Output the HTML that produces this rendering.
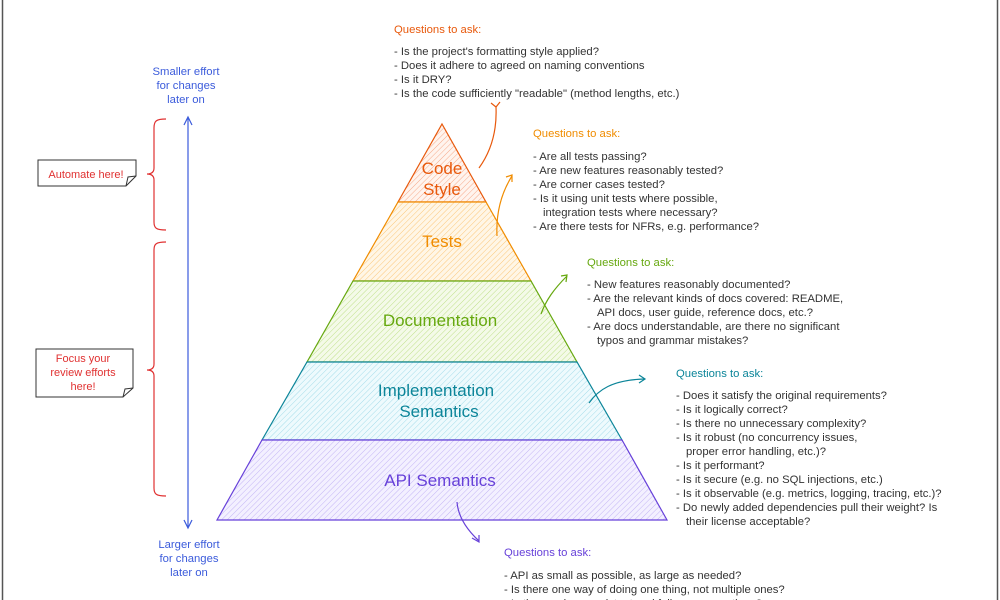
<!DOCTYPE html>
<html><head><meta charset="utf-8"><style>
html,body{margin:0;padding:0;background:#fff;}
svg{display:block;font-family:"Liberation Sans",sans-serif;}
</style></head><body>
<svg width="1000" height="600" viewBox="0 0 1000 600" xmlns="http://www.w3.org/2000/svg">
<defs>
<pattern id="h1" width="4" height="4" patternUnits="userSpaceOnUse" patternTransform="rotate(45)"><rect width="4" height="4" fill="#fff4ee"/><line x1="0" y1="0" x2="0" y2="4" stroke="#f6a98a" stroke-width="1"/></pattern>
<pattern id="h2" width="4" height="4" patternUnits="userSpaceOnUse" patternTransform="rotate(45)"><rect width="4" height="4" fill="#fff6e6"/><line x1="0" y1="0" x2="0" y2="4" stroke="#fbc77a" stroke-width="1"/></pattern>
<pattern id="h3" width="4" height="4" patternUnits="userSpaceOnUse" patternTransform="rotate(45)"><rect width="4" height="4" fill="#f4fae8"/><line x1="0" y1="0" x2="0" y2="4" stroke="#bfe08a" stroke-width="1"/></pattern>
<pattern id="h4" width="4" height="4" patternUnits="userSpaceOnUse" patternTransform="rotate(45)"><rect width="4" height="4" fill="#eefafd"/><line x1="0" y1="0" x2="0" y2="4" stroke="#a5dcea" stroke-width="1"/></pattern>
<pattern id="h5" width="4" height="4" patternUnits="userSpaceOnUse" patternTransform="rotate(45)"><rect width="4" height="4" fill="#f3f0ff"/><line x1="0" y1="0" x2="0" y2="4" stroke="#c3b4f5" stroke-width="1"/></pattern>
</defs>
<rect x="2.5" y="-2" width="995" height="610" fill="none" stroke="#555" stroke-width="1.5"/>

<polygon points="442,124 486,202 398,202" fill="url(#h1)" stroke="#e8590c" stroke-width="1.2"/>
<polygon points="398,202 486,202 531,281 353,281" fill="url(#h2)" stroke="#f08c00" stroke-width="1.2"/>
<polygon points="353,281 531,281 577,362 307,362" fill="url(#h3)" stroke="#66a80f" stroke-width="1.2"/>
<polygon points="307,362 577,362 622,440 262,440" fill="url(#h4)" stroke="#0c8599" stroke-width="1.2"/>
<polygon points="262,440 622,440 667,520 217,520" fill="url(#h5)" stroke="#6741d9" stroke-width="1.2"/>

<g font-size="17" text-anchor="middle">
<text x="442" y="174" fill="#e8590c">Code</text>
<text x="442" y="195" fill="#e8590c">Style</text>
<text x="442" y="247" fill="#f08c00">Tests</text>
<text x="440" y="326" fill="#66a80f">Documentation</text>
<text x="436" y="396" fill="#0c8599">Implementation</text>
<text x="439" y="417" fill="#0c8599">Semantics</text>
<text x="440" y="486" fill="#6741d9">API Semantics</text>
</g>

<g fill="none" stroke-width="1.2">
<path d="M479,168 C492,150 497,130 496,107" stroke="#e8590c"/>
<path d="M491,103 L496,107 L500,102" stroke="#e8590c"/>
<path d="M497,236 C496,215 500,195 512,176" stroke="#f08c00"/>
<path d="M506,177 L512,175 L512,182" stroke="#f08c00"/>
<path d="M541,314 C546,300 554,289 567,276" stroke="#66a80f"/>
<path d="M561,276 L567,275 L566,282" stroke="#66a80f"/>
<path d="M589,403 C598,390 612,380 644,379" stroke="#0c8599"/>
<path d="M639,375 L645,379 L639,383" stroke="#0c8599"/>
<path d="M457,502 C458,515 465,528 479,541" stroke="#6741d9"/>
<path d="M472,538 L479,542 L479,535" stroke="#6741d9"/>
</g>

<g font-size="11.3" fill="#333">
<text x="394" y="33" fill="#e8590c">Questions to ask:</text>
<text x="394" y="55">- Is the project's formatting style applied?</text>
<text x="394" y="69">- Does it adhere to agreed on naming conventions</text>
<text x="394" y="83">- Is it DRY?</text>
<text x="394" y="97">- Is the code sufficiently "readable" (method lengths, etc.)</text>

<text x="533" y="137" fill="#f08c00">Questions to ask:</text>
<text x="533" y="160">- Are all tests passing?</text>
<text x="533" y="174">- Are new features reasonably tested?</text>
<text x="533" y="188">- Are corner cases tested?</text>
<text x="533" y="202">- Is it using unit tests where possible,</text>
<text x="543" y="216">integration tests where necessary?</text>
<text x="533" y="230">- Are there tests for NFRs, e.g. performance?</text>

<text x="587" y="266" fill="#66a80f">Questions to ask:</text>
<text x="587" y="288">- New features reasonably documented?</text>
<text x="587" y="302">- Are the relevant kinds of docs covered: README,</text>
<text x="597" y="316">API docs, user guide, reference docs, etc.?</text>
<text x="587" y="330">- Are docs understandable, are there no significant</text>
<text x="597" y="344">typos and grammar mistakes?</text>

<text x="676" y="377" fill="#0c8599">Questions to ask:</text>
<text x="676" y="399">- Does it satisfy the original requirements?</text>
<text x="676" y="413">- Is it logically correct?</text>
<text x="676" y="427">- Is there no unnecessary complexity?</text>
<text x="676" y="441">- Is it robust (no concurrency issues,</text>
<text x="686" y="455">proper error handling, etc.)?</text>
<text x="676" y="469">- Is it performant?</text>
<text x="676" y="483">- Is it secure (e.g. no SQL injections, etc.)</text>
<text x="676" y="497">- Is it observable (e.g. metrics, logging, tracing, etc.)?</text>
<text x="676" y="511">- Do newly added dependencies pull their weight? Is</text>
<text x="686" y="525">their license acceptable?</text>

<text x="504" y="556" fill="#6741d9">Questions to ask:</text>
<text x="504" y="579">- API as small as possible, as large as needed?</text>
<text x="504" y="593">- Is there one way of doing one thing, not multiple ones?</text>
<text x="504" y="607">- Is the naming consistent and follows conventions?</text>
</g>

<g font-size="11.3" fill="#3b5bdb" text-anchor="middle">
<text x="186" y="75">Smaller effort</text>
<text x="186" y="89">for changes</text>
<text x="186" y="103">later on</text>
<text x="189" y="548">Larger effort</text>
<text x="189" y="562">for changes</text>
<text x="189" y="576">later on</text>
</g>
<g fill="none" stroke="#3b5bdb" stroke-width="1.2">
<line x1="188" y1="118" x2="188" y2="527"/>
<path d="M184,125 L188,117 L192,125"/>
<path d="M184,520 L188,528 L192,520"/>
</g>
<g fill="none" stroke="#e03131" stroke-width="1.2">
<path d="M166,119 C156,119 154,121 154,128 L154,168 C154,172 152,174 147,174 C152,174 154,176 154,180 L154,222 C154,228 156,230 166,230"/>
<path d="M166,242 C156,242 154,244 154,250 L154,364 C154,368 152,370 147,370 C152,370 154,372 154,376 L154,488 C154,494 156,496 166,496"/>
</g>
<g fill="#fff" stroke="#333" stroke-width="1">
<path d="M38,160 L136,160 L136,176 L126,186 L38,186 Z"/>
<path d="M126,186 L128,177 L136,176" fill="none"/>
<path d="M36,349 L133,349 L133,388 L123,397 L36,397 Z"/>
<path d="M123,397 L125,389 L133,388" fill="none"/>
</g>
<g font-size="11" fill="#e03131" text-anchor="middle">
<text x="86" y="178">Automate here!</text>
<text x="83" y="362">Focus your</text>
<text x="83" y="376">review efforts</text>
<text x="83" y="390">here!</text>
</g>
</svg>
</body></html>
